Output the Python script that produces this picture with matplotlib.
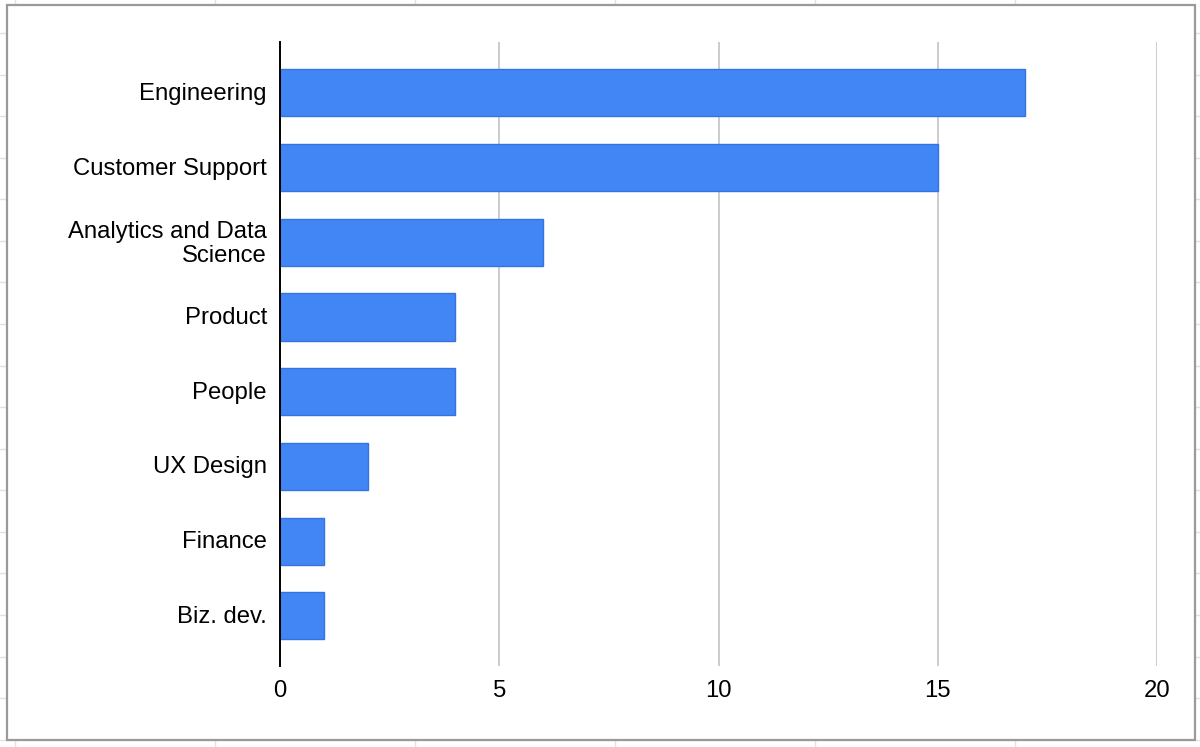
import matplotlib
matplotlib.use("Agg")
from matplotlib import pyplot as plt
from matplotlib.patches import Rectangle
import numpy as np

plt.rcParams['font.family'] = ['Liberation Sans', 'DejaVu Sans']

teams = ['Engineering', 'Customer Support', 'Analytics and Data\nScience',
         'Product', 'People', 'UX Design', 'Finance', 'Biz. dev.']
counts = [17, 15, 6, 4, 4, 2, 1, 1]
xticks = [0, 5, 10, 15, 20]

W, H = 1200, 747
fig = plt.figure(figsize=(W / 100, H / 100), dpi=100)

# spreadsheet cells behind the chart
for x in range(15, W, 200):
    fig.add_artist(plt.Line2D([x / W, x / W], [0, 1], color='#e2e2e2', lw=1, zorder=0.5))
for y in np.arange(33, H, 41.57):
    fig.add_artist(plt.Line2D([0, 1], [1 - y / H, 1 - y / H], color='#e2e2e2', lw=1, zorder=0.5))

# chart card
fig.add_artist(Rectangle((7 / W, 1 - 740 / H), (1195 - 7) / W, (740 - 5) / H,
                         facecolor='white', edgecolor='#9a9a9a', lw=1.6,
                         transform=fig.transFigure, zorder=1))

ax = fig.add_axes([280 / W, 1 - 666 / H, (1157 - 280) / W, (666 - 42) / H])
ax.set_zorder(3)
ax.set_facecolor('none')

pos = np.arange(len(teams))
ax.barh(pos, counts, height=0.63, color='#4285f4', edgecolor='#3574e0', lw=1, zorder=3)

ax.set_ylim(len(teams) - 1 + 0.67, -0.68)
ax.set_xlim(0, 20)
ax.set_xticks(xticks)
ax.set_yticks(pos)
ax.set_yticklabels(teams, ha='right', multialignment='right', linespacing=1.1)
ax.tick_params(axis='both', length=0, labelsize=17.2, colors='black')
ax.tick_params(axis='y', pad=9.5)
ax.tick_params(axis='x', pad=10)
for lab in ax.get_yticklabels():
    lab.set_y(lab.get_position()[1])
    lab.set_transform(lab.get_transform() + matplotlib.transforms.ScaledTranslation(0, 1.5 / 100, fig.dpi_scale_trans))

ax.grid(axis='x', color='#c8c8c8', lw=1.3, zorder=0)
for s in ['top', 'right', 'bottom']:
    ax.spines[s].set_visible(False)
ax.spines['left'].set_color('black')
ax.spines['left'].set_linewidth(1.4)
ax.spines['left'].set_zorder(4)

fig.savefig('out.png', dpi=100)
